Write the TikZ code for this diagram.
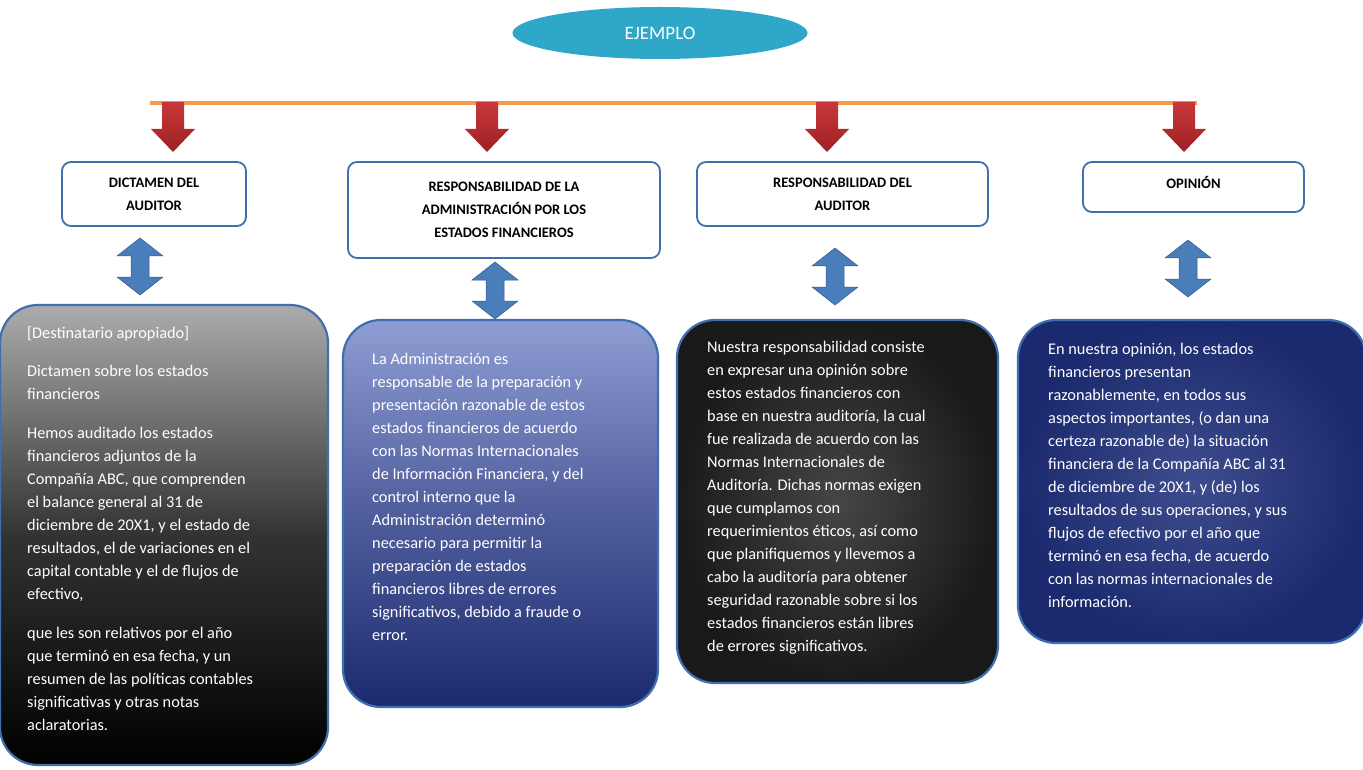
\documentclass[tikz,border=0pt]{standalone}
\usepackage{fontspec}
\usetikzlibrary{shapes.geometric}
\setmainfont{Carlito}
\definecolor{teal1}{HTML}{2FA7C9}
\definecolor{bord}{HTML}{3F6FAE}
\definecolor{orng}{HTML}{F59A4A}
\definecolor{redA}{HTML}{C8383A}
\definecolor{redB}{HTML}{9E2023}
\definecolor{blueA}{HTML}{4A7EBB}
\definecolor{navy}{HTML}{1B2A6E}
\definecolor{lblue}{HTML}{8F9DD4}
\tikzset{
  hbox/.style={draw=bord,line width=1.8pt,rounded corners=9pt,fill=white,align=center,font=\fontsize{14.5}{23}\selectfont\bfseries},
  bigbox/.style={draw=bord,line width=2.2pt,rounded corners=38pt},
  txt/.style={anchor=north west,align=left,text=white,inner sep=0pt,font=\fontsize{16.3}{23}\selectfont},
  redarrow/.pic={\shade[top color=redA,bottom color=redB] (-11,0)--(11,0)--(11,27)--(22,27)--(0,50)--(-22,27)--(-11,27)--cycle;},
  dblarrow/.pic={\fill[blueA,draw=bord!80!black,line width=0.5pt] (0,0)--(23,18)--(9,18)--(9,39)--(23,39)--(0,57)--(-23,39)--(-9,39)--(-9,18)--(-23,18)--cycle;}
}
\begin{document}
\begin{tikzpicture}[x=1pt,y=-1pt]
\useasboundingbox (0,0) rectangle (1363,770);
\fill[white] (0,0) rectangle (1363,770);
% title
\node[ellipse,fill=teal1,minimum width=295pt,minimum height=52pt,text=white,font=\fontsize{19}{22}\selectfont] (title) at (660,33) {EJEMPLO};
\draw[orng,line width=4pt] (150,103) coordinate (l1) -- (1197,103) coordinate (l2);
% red arrows
\foreach \x in {173,487,827,1184} \pic at (\x,102) {redarrow};
% header boxes
\node[hbox,minimum width=184pt,minimum height=64pt] (h1) at (154,194) {DICTAMEN DEL\\AUDITOR};
\node[hbox,minimum width=312pt,minimum height=96pt] (h2) at (504,210) {RESPONSABILIDAD DE LA\\ADMINISTRACIÓN POR LOS\\ESTADOS FINANCIEROS};
\node[hbox,minimum width=291pt,minimum height=64pt] (h3) at (842.5,194) {RESPONSABILIDAD DEL\\AUDITOR};
\node[hbox,minimum width=221pt,minimum height=50pt,text depth=10pt] (h4) at (1193.5,187) {OPINIÓN};
% double arrows
\pic at (140,238) {dblarrow};
\pic at (495,262) {dblarrow};
\pic at (835,248) {dblarrow};
\pic at (1188,240) {dblarrow};
% big boxes
\shade[bigbox,top color=gray!65,bottom color=black,middle color=gray!40!black] (0,305) rectangle (328,765);
\shade[bigbox,top color=lblue,bottom color=navy,middle color=lblue!45!navy] (343,320) rectangle (658,707);
\shade[bigbox,inner color=gray!55!black,outer color=black!90] (677,320) rectangle (998,683);
\shade[bigbox,inner color=navy!70!lblue,outer color=navy] (1018,320) rectangle (1366,643);
% texts
\node[txt] (t1a) at (27,327) {[Destinatario apropiado]};
\node[txt] (t1b) at (27,365) {Dictamen sobre los estados\\financieros};
\node[txt] (t1c) at (27,427) {Hemos auditado los estados\\financieros adjuntos de la\\Compañía ABC, que comprenden\\el balance general al 31 de\\diciembre de 20X1, y el estado de\\resultados, el de variaciones en el\\capital contable y el de flujos de\\efectivo,};
\node[txt] (t1d) at (27,627) {que les son relativos por el año\\que terminó en esa fecha, y un\\resumen de las políticas contables\\significativas y otras notas\\aclaratorias.};
\node[txt] (t2) at (372,353) {La Administración es\\responsable de la preparación y\\presentación razonable de estos\\estados financieros de acuerdo\\con las Normas Internacionales\\de Información Financiera, y del\\control interno que la\\Administración determinó\\necesario para permitir la\\preparación de estados\\financieros libres de errores\\significativos, debido a fraude o\\error.};
\node[txt] (t3) at (707,341) {Nuestra responsabilidad consiste\\en expresar una opinión sobre\\estos estados financieros con\\base en nuestra auditoría, la cual\\fue realizada de acuerdo con las\\Normas Internacionales de\\Auditoría. Dichas normas exigen\\que cumplamos con\\requerimientos éticos, así como\\que planifiquemos y llevemos a\\cabo la auditoría para obtener\\seguridad razonable sobre si los\\estados financieros están libres\\de errores significativos.};
\node[txt] (t4) at (1048,343) {En nuestra opinión, los estados\\financieros presentan\\razonablemente, en todos sus\\aspectos importantes, (o dan una\\certeza razonable de) la situación\\financiera de la Compañía ABC al 31\\de diciembre de 20X1, y (de) los\\resultados de sus operaciones, y sus\\flujos de efectivo por el año que\\terminó en esa fecha, de acuerdo\\con las normas internacionales de\\información.};
\end{tikzpicture}
\end{document}
